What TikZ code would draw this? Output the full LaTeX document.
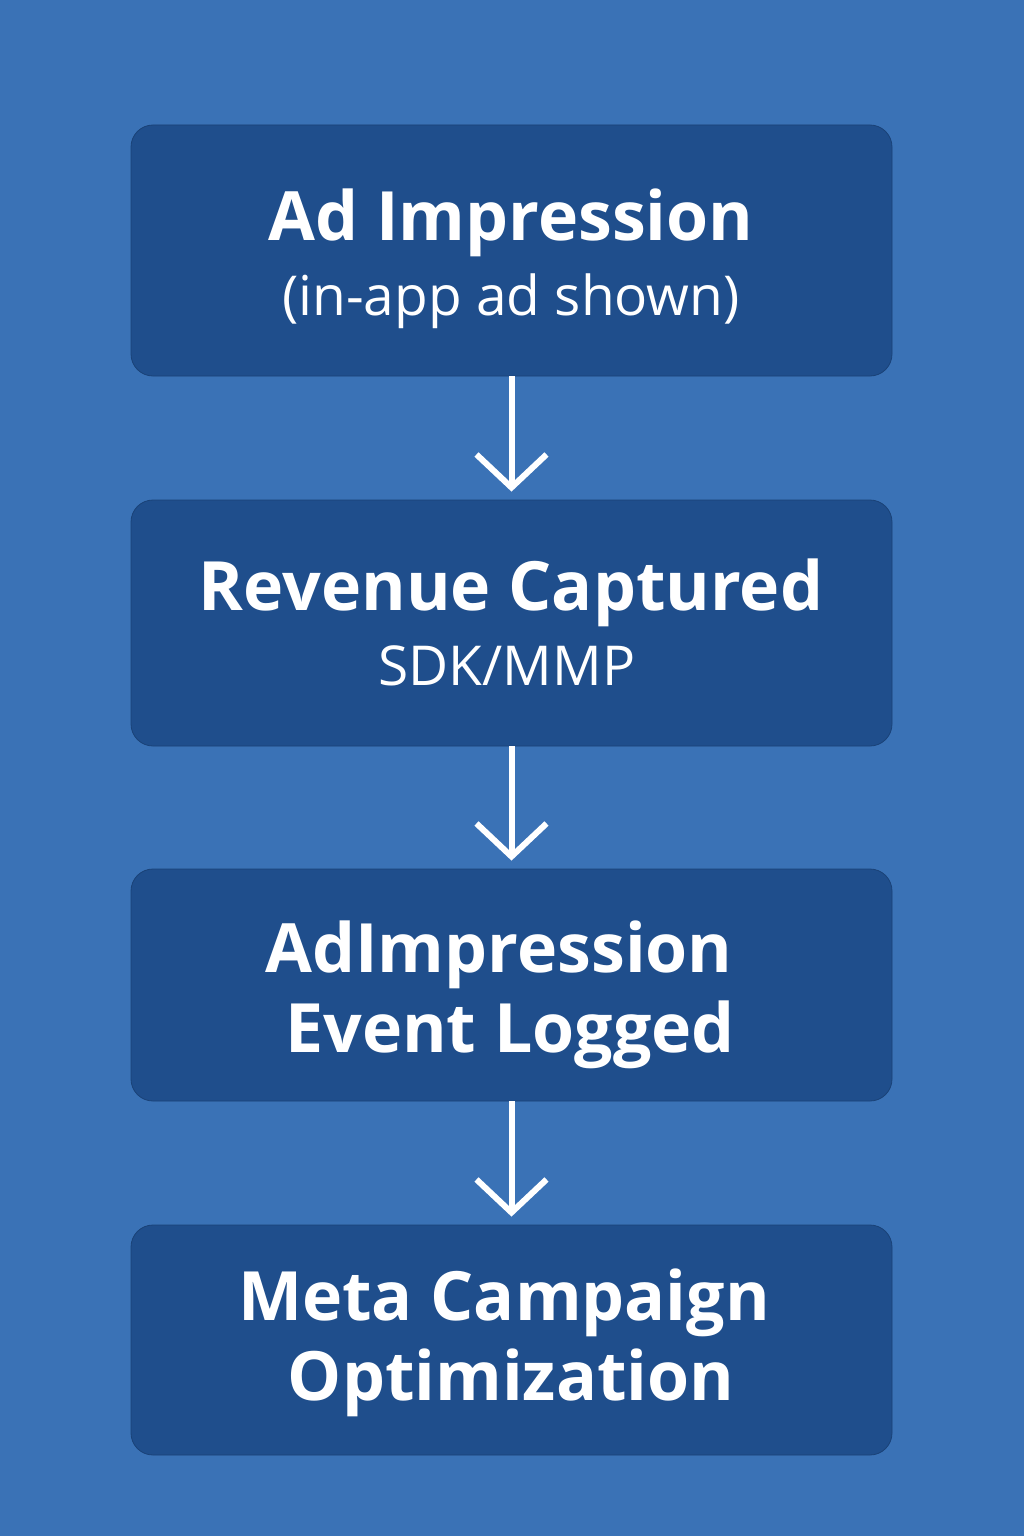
\documentclass[tikz,border=0pt]{standalone}
\usepackage{fontspec}
\setmainfont{Open Sans}
\usetikzlibrary{arrows.meta}
\definecolor{bg}{HTML}{3A72B6}
\definecolor{box}{HTML}{1F4E8C}
\tikzset{
 card/.style={fill=box,draw=box!85!black,line width=0.8pt,rounded corners=22pt,minimum width=761pt,text=white,align=center},
 arr/.style={draw=white,line width=6pt,-{Straight Barb[length=33pt,width=70pt,line width=6pt]}},
 ttl/.style={text=white,font=\fontsize{68}{80}\selectfont\bfseries,anchor=base},
 sub/.style={text=white,font=\fontsize{55}{60}\selectfont,anchor=base},
}
\begin{document}
\begin{tikzpicture}[x=1pt,y=1pt]
\fill[bg] (0,0) rectangle (1024,-1536);
\useasboundingbox (0,0) rectangle (1024,-1536);
\node[card,minimum height=251pt] (b1) at (511.5,-250.5) {};
\node[card,minimum height=246pt] (b2) at (511.5,-623) {};
\node[card,minimum height=232pt] (b3) at (511.5,-985) {};
\node[card,minimum height=230pt] (b4) at (511.5,-1340) {};
\node[ttl] (t1) at (511,-240) {Ad Impression};
\node[sub] (s1) at (511,-315) {(in-app ad shown)};
\node[ttl] (t2) at (511,-610) {Revenue Captured};
\node[sub] (s2) at (507,-685) {SDK/MMP};
\node[ttl] (t3) at (499,-972) {AdImpression};
\node[ttl] (u3) at (510,-1052) {Event Logged};
\node[ttl] (t4) at (504,-1320) {Meta Campaign};
\node[ttl] (u4) at (511,-1400) {Optimization};
\draw[arr] (b1.south) -- ([yshift=8pt]b2.north);
\draw[arr] (b2.south) -- ([yshift=8pt]b3.north);
\draw[arr] (b3.south) -- ([yshift=8pt]b4.north);
\end{tikzpicture}
\end{document}
